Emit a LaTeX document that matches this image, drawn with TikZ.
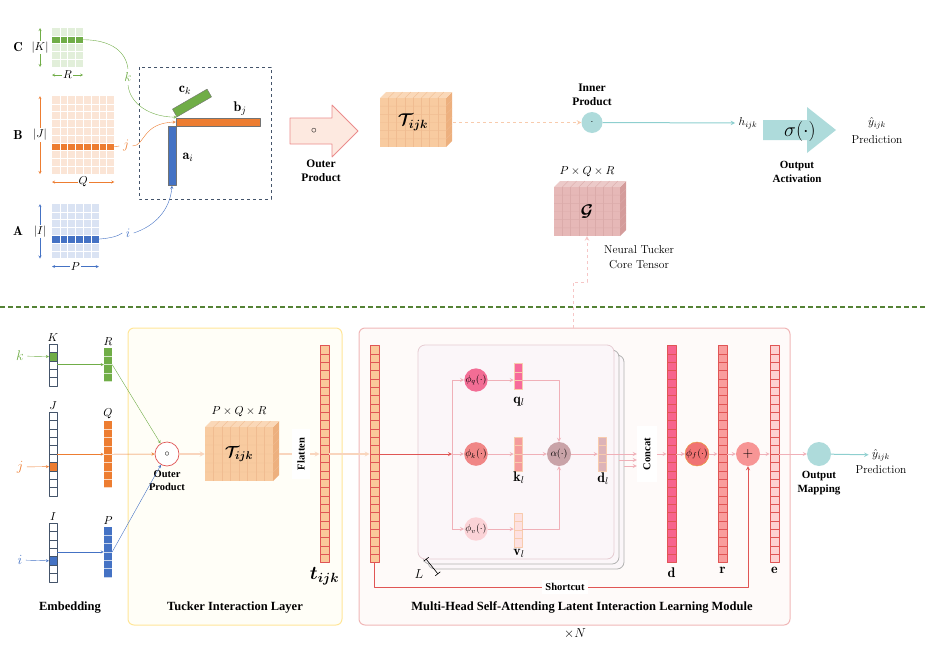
\RequirePackage{fix-cm}
\documentclass[tikz,border=0pt]{standalone}
\usepackage{amsmath, amssymb}
\usepackage{fontspec}
\newfontfamily\capfont{Liberation Serif}
\usetikzlibrary{positioning}

\definecolor{gLt}{HTML}{E2EFDA}
\definecolor{gDk}{HTML}{70AD47}
\definecolor{oLt}{HTML}{FBE5D6}
\definecolor{oDk}{HTML}{ED7D31}
\definecolor{bLt}{HTML}{DAE3F3}
\definecolor{bDk}{HTML}{4472C4}
\definecolor{slate}{HTML}{44546A}
\definecolor{cOr}{HTML}{F8CBA0}
\definecolor{cOrD}{HTML}{EDB07E}
\definecolor{cPk}{HTML}{E6B8B7}
\definecolor{cPkD}{HTML}{D49C9B}
\definecolor{tealC}{HTML}{AEDBDB}
\definecolor{tealL}{HTML}{8ECFCF}
\definecolor{peachD}{HTML}{F8CBAD}
\definecolor{pinkD}{HTML}{F6C6C6}
\definecolor{sepG}{HTML}{548235}
\definecolor{yBd}{HTML}{FFE699}
\definecolor{yFl}{HTML}{FFFEF7}
\definecolor{mBd}{HTML}{F0B7B7}
\definecolor{mFl}{HTML}{FEFAF9}
\definecolor{hdFl}{HTML}{FBF6F9}
\definecolor{hdBd}{HTML}{E6CCD2}
\definecolor{rdC}{HTML}{E05555}
\definecolor{pkL}{HTML}{F0B0B8}
\definecolor{tOr}{HTML}{FAC89A}
\definecolor{dPk}{HTML}{F7648E}
\definecolor{rPk}{HTML}{F99D9D}
\definecolor{ePk}{HTML}{FDD2D2}
\definecolor{qPk}{HTML}{F76A9B}
\definecolor{kPk}{HTML}{F59B9B}
\definecolor{vPk}{HTML}{FDE1E1}
\definecolor{dlPk}{HTML}{DDB3B8}
\definecolor{phqC}{HTML}{F26D95}
\definecolor{phkC}{HTML}{F08686}
\definecolor{phvC}{HTML}{FBD3D7}
\definecolor{alC}{HTML}{C9A3A8}
\definecolor{phfC}{HTML}{F07373}
\definecolor{phfB}{HTML}{E8A035}
\definecolor{plC}{HTML}{F79595}
\definecolor{arFl}{HTML}{FDE9E0}
\definecolor{arBd}{HTML}{EB8C8C}

\begin{document}
\begin{tikzpicture}[x=1pt, y=-1pt, >=stealth, line join=round,
    every node/.style={font=\fontsize{11.5}{14}\selectfont},
    capt/.style={font=\capfont\bfseries\fontsize{11.5}{14}\selectfont, align=center},
    captS/.style={font=\capfont\bfseries\fontsize{10.5}{12.5}\selectfont, align=center},
    capL/.style={font=\capfont\bfseries\fontsize{12.5}{15}\selectfont},
    bar/.style={rectangle, draw=black!55, line width=0.4pt, inner sep=0},
    cube/.style={rectangle, inner sep=0},
    vecbox/.style={rectangle, inner sep=0, minimum width=8},
    longvec/.style={rectangle, draw=rdC, line width=0.6pt, inner sep=0, minimum width=9, minimum height=217},
    opnode/.style={circle, inner sep=0, minimum size=23, font=\fontsize{10}{11}\selectfont},
    flowA/.style={->, draw=pkL, line width=0.8pt},
    tealA/.style={->, draw=tealL, line width=1pt},
    faintA/.style={->, draw=peachD!80, line width=1.2pt},
    panel/.style={rounded corners=7pt, fill=hdFl, draw=hdBd, line width=0.8pt}]
    \useasboundingbox (0,0) rectangle (926,653);

    % lower boxes
    \node[draw=yBd, fill=yFl, rounded corners=6pt, line width=1pt, minimum width=214, minimum height=297] (tuck) at (235,476.5) {};
    \node[draw=mBd, fill=mFl, rounded corners=6pt, line width=1pt, minimum width=431, minimum height=297] (mod) at (574.5,476.5) {};

    % factor matrices C, B, A
    \foreach \my/\nc/\nr/\hr/\lc/\dc/\mn/\dn/\sz in {28/4/5/1/gLt/gDk/C/K/R, 96/8/10/6/oLt/oDk/B/J/Q, 204/6/7/4/bLt/bDk/A/I/P}
    {
        \fill[\lc] (52,\my) rectangle ++({\nc*7.8},{\nr*7.8});
        \fill[\dc] (52,{\my+\hr*7.8}) rectangle ++({\nc*7.8},7.8);
        \foreach \c in {1,...,\nc} \draw[white, line width=0.6pt] ({52+\c*7.8},\my) -- ++(0,{\nr*7.8});
        \foreach \r in {1,...,\nr} \draw[white, line width=0.6pt] (52,{\my+\r*7.8}) -- ++({\nc*7.8},0);
        \draw[<->, \dc] (40,\my) -- (40,{\my+\nr*7.8}) node[midway, fill=white, text=black, inner sep=1pt] (dim\dn) {$|\dn|$};
        \draw[<->, \dc] (52,{\my+\nr*7.8+8}) -- ++({\nc*7.8},0) node[midway, fill=white, text=black, inner sep=1pt] (dim\sz) {$\sz$};
        \node[font=\fontsize{13}{15}\selectfont] (mat\mn) at (18,{\my+\nr*3.9}) {$\mathbf{\mn}$};
        \coordinate (row\mn) at ({52+\nc*7.8},{\my+\hr*7.8+3.9});
    }

    % picked rows
    \draw[dashed, slate, line width=0.8pt] (139,67) rectangle (271,199);
    \node[bar, fill=bDk, minimum width=8, minimum height=59] (ai) at (172,156) {};
    \node[bar, fill=oDk, minimum width=84, minimum height=8] (bj) at (218,122) {};
    \node[bar, fill=gDk, minimum width=40, minimum height=9, rotate=30] (ck) at (192,103) {};
    \node[font=\fontsize{14}{16}\selectfont] (aiL) at (188,157) {$\mathbf{a}_i$};
    \node[font=\fontsize{14}{16}\selectfont] (bjL) at (240,109) {$\mathbf{b}_j$};
    \node[font=\fontsize{14}{16}\selectfont] (ckL) at (185,90) {$\mathbf{c}_k$};

    \node[text=gDk, font=\fontsize{13}{15}\selectfont] (kIdx) at (128,77) {$k$};
    \node[text=oDk, font=\fontsize{13}{15}\selectfont] (jIdx) at (126,146) {$j$};
    \node[text=bDk, font=\fontsize{13}{15}\selectfont] (iIdx) at (128,233) {$i$};
    \draw[gDk] (rowC) .. controls (112,40) and (126,52) .. (kIdx.north);
    \draw[->, gDk] (kIdx.south) .. controls (130,104) and (150,117) .. (ck.south west);
    \draw[oDk] (rowB) -- (jIdx.west);
    \draw[->, oDk] (jIdx.east) .. controls (145,146) and (142,123) .. (bj.west);
    \draw[bDk] (rowA) .. controls (112,238) and (118,236) .. (iIdx.west);
    \draw[->, bDk] (iIdx.east) .. controls (155,226) and (170,210) .. (ai.south);

    % outer product arrow
    \draw[fill=arFl, draw=arBd, line width=0.8pt] (290,118) -- (332,118) -- (332,105) -- (358,131) -- (332,157) -- (332,144) -- (290,144) -- cycle;
    \node (opT) at (314,131) {$\circ$};
    \node[capt] (opTL) at (321,171) {Outer\\Product};

    % tensor cubes
    \foreach \qx/\qy/\qw/\qh/\qf/\qs/\qn in {380/98/66/49/cOr/cOrD/Ttop, 554/187/66/49/cPk/cPkD/G, 205/427/68/54/cOr/cOrD/Tbot}
    {
        \fill[\qs] ({\qx+\qw},\qy) -- ++(6,-6) -- ++(0,\qh) -- ++(-6,6) -- cycle;
        \fill[\qf!75!white] (\qx,\qy) -- ++(6,-6) -- ++(\qw,0) -- ++(-6,6) -- cycle;
        \node[cube, fill=\qf, minimum width=\qw, minimum height=\qh] (\qn) at ({\qx+\qw/2},{\qy+\qh/2}) {};
        \foreach \g in {1,...,7} {
            \draw[\qs!85, line width=0.35pt] ({\qx+\g*\qw/8},\qy) -- ++(0,\qh);
            \draw[\qs!85, line width=0.35pt] ({\qx+\g*\qw/8},\qy) -- ++(6,-6);
        }
        \foreach \g in {1,...,5}
            \draw[\qs!85, line width=0.35pt] (\qx,{\qy+\g*\qh/6}) -- ++(\qw,0) -- ++(6,-6);
    }
    \node[font=\fontsize{17}{20}\selectfont] (TtopL) at (Ttop) {$\boldsymbol{\mathcal{T}_{ijk}}$};
    \node[font=\fontsize{17}{20}\selectfont] (GL) at (G) {$\boldsymbol{\mathcal{G}}$};
    \node[font=\fontsize{16}{19}\selectfont] (TbotL) at (Tbot) {$\boldsymbol{\mathcal{T}_{ijk}}$};
    \node[above=7pt of G] (Gdim) {$P\times Q\times R$};
    \node[above=7pt of Tbot] (Tdim) {$P\times Q\times R$};
    \node[align=center, font=\fontsize{11.5}{15}\selectfont] (Gname) at (639,257) {Neural Tucker\\Core Tensor};

    % inner product and output
    \node[opnode, fill=tealC, minimum size=21] (ip) at (592,122.5) {$\cdot$};
    \node[capt, above=3pt of ip] (ipL) {Inner\\Product};
    \draw[->, dashed, peachD, line width=1pt] ([xshift=7pt]Ttop.east) -- (ip);
    \node (hT) at (748,123) {$h_{ijk}$};
    \draw[tealA] (ip) -- (hT);
    \fill[tealC] (763,120) -- (807,120) -- (807,107) -- (836,130) -- (807,153) -- (807,140) -- (763,140) -- cycle;
    \node[font=\fontsize{20}{22}\selectfont] (sig) at (800,131) {$\sigma(\cdot)$};
    \node[capt, font=\capfont\bfseries\fontsize{11}{14}\selectfont] (sigL) at (797,172) {Output\\Activation};
    \node (yT) at (877,123) {$\hat{y}_{ijk}$};
    \node (predT) at (877,140) {Prediction};

    % separator
    \draw[sepG, line width=1.3pt, dash pattern=on 5pt off 3pt] (0,307) -- (926,307);

    % core tensor feed
    \coordinate (gTap) at (573,328);
    \draw[->, dashed, pinkD, line width=1pt] (gTap) -- (573,282) -| (G.south);

    % one-hot index columns
    \foreach \ey/\en/\eh/\ec/\el in {344/5/1/gDk/K, 412/10/6/oDk/J, 523/7/4/bDk/I}
    {
        \foreach \r in {1,...,\en} \draw[slate, fill=white, line width=0.6pt] (49,{\ey+(\r-1)*8.4}) rectangle ++(8,8.4);
        \draw[slate, fill=\ec, line width=0.6pt] (49,{\ey+\eh*8.4}) rectangle ++(8,8.4);
        \node[above=-1pt] (oh\el) at (53,\ey) {$\el$};
        \coordinate (hot\el) at (49,{\ey+\eh*8.4+4.2});
        \coordinate (col\el) at (57,\ey);
    }
    \node[text=gDk, font=\fontsize{14}{16}\selectfont] (kB) at (20,356) {$k$};
    \node[text=oDk, font=\fontsize{14}{16}\selectfont] (jB) at (20,467) {$j$};
    \node[text=bDk, font=\fontsize{14}{16}\selectfont] (iB) at (20,560) {$i$};
    \draw[->, gDk] (kB) -- (hotK);
    \draw[->, oDk] (jB) -- (hotJ);
    \draw[->, bDk] (iB) -- (hotI);

    % outer product node
    \node[opnode, draw=rdC, fill=white, minimum size=24, line width=0.7pt] (opB) at (167,454) {$\circ$};
    \node[captS, below=1pt of opB] (opBL) {Outer\\Product};

    % factor embedding vectors
    \foreach \fy/\fn/\fc/\fl/\fk in {348/4/gDk/R/K, 421/8/oDk/Q/J, 527/6/bDk/P/I}
    {
        \node[vecbox, fill=\fc, minimum height=\fn*8.3] (v\fl) at (108,{\fy+\fn*4.15}) {};
        \foreach \c in {1,...,\fn} \draw[white!70!\fc, line width=0.5pt] (104,{\fy+\c*8.3}) -- ++(8,0);
        \node[above=-1pt of v\fl] (vl\fl) {$\fl$};
        \draw[->, \fc] (col\fk |- v\fl.west) -- (v\fl.west);
        \draw[->, \fc] (v\fl.east) -- (opB);
    }

    % long vectors
    \foreach \vx/\vf/\vn in {320/tOr/tv, 370/tOr/hv, 667/dPk/dv, 718/rPk/rv, 770/ePk/ev}
    {
        \node[longvec, fill=\vf] (\vn) at ({\vx+4.5},454) {};
        \foreach \c in {1,...,25} \draw[rdC, line width=0.5pt] (\vx,{345.5+\c*8.35}) -- ++(9,0);
    }
    \node[below=1pt of tv, font=\fontsize{19}{21}\selectfont] (tL) {$\boldsymbol{t_{ijk}}$};
    \node[below=1pt of dv, font=\fontsize{14}{16}\selectfont] (dL) {$\mathbf{d}$};
    \node[below=1pt of rv, font=\fontsize{14}{16}\selectfont] (rL) {$\mathbf{r}$};
    \node[below=1pt of ev, font=\fontsize{14}{16}\selectfont] (eL) {$\mathbf{e}$};

    % tucker layer flow
    \draw[faintA] (opB) -- (Tbot);
    \draw[faintA] ([xshift=6pt]Tbot.east) -- (tv);
    \node[capt, rotate=90, fill=white, font=\capfont\bfseries\fontsize{10.5}{12}\selectfont, minimum width=50, minimum height=18] (flat) at (301,454) {Flatten};
    \draw[faintA] (tv) -- (hv);

    % stacked attention heads
    \foreach \s in {10,5} \draw[panel, draw=black!30] ({418+\s},{345+\s}) rectangle ({614+\s},{559+\s});
    \node[panel, minimum width=196, minimum height=214] (head) at (516,452) {};
    \node[font=\fontsize{13}{15}\selectfont] (Lh) at (419,574) {$L$};
    \draw[|-|, line width=0.6pt] (426,559) -- (438,574);

    \node[opnode, fill=phqC] (phq) at (476,380) {$\phi_q(\cdot)$};
    \node[opnode, fill=phkC] (phk) at (476,454) {$\phi_k(\cdot)$};
    \node[opnode, fill=phvC] (phv) at (476,529) {$\phi_v(\cdot)$};
    \coordinate (sp) at (452,454);
    \draw[->, rdC, line width=0.8pt] (hv) -- (sp);
    \draw[pkL, line width=0.8pt] (sp |- phq) -- (sp |- phv);
    \draw[flowA] (sp |- phq) -- (phq);
    \draw[flowA] (sp) -- (phk);
    \draw[flowA] (sp |- phv) -- (phv);

    \foreach \ux/\uy/\un/\uf/\uv in {514/376/3/qPk/qV, 514/454/4/kPk/kV, 514/530/4/vPk/vV, 598/454/4/dlPk/dlV}
    {
        \node[vecbox, fill=\uf, draw=peachD, line width=0.5pt, minimum height=\un*8.5] (\uv) at ({\ux+4},\uy) {};
        \foreach \c in {1,...,\un} \draw[peachD, line width=0.5pt] (\ux,{\uy-\un*4.25+\c*8.5}) -- ++(8,0);
    }
    \node[font=\fontsize{14}{16}\selectfont] (qL) at (519,402) {$\mathbf{q}_l$};
    \node[font=\fontsize{14}{16}\selectfont] (kL) at (519,478) {$\mathbf{k}_l$};
    \node[font=\fontsize{14}{16}\selectfont] (vL) at (519,553) {$\mathbf{v}_l$};
    \node[font=\fontsize{14}{16}\selectfont] (dlL) at (603,479) {$\mathbf{d}_l$};

    \node[opnode, fill=alC, minimum size=24] (al) at (559,454) {$\alpha(\cdot)$};
    \draw[flowA] (phq) -- (qV.west |- phq);
    \draw[flowA] (phk) -- (kV);
    \draw[flowA] (phv) -- (vV.west |- phv);
    \draw[flowA] (qV.east |- phq) -| (al);
    \draw[flowA] (kV) -- (al);
    \draw[flowA] (vV.east |- phv) -| (al);
    \draw[flowA] (al) -- (dlV);

    % concat and feed forward
    \node[capt, rotate=90, fill=white, font=\capfont\bfseries\fontsize{10.5}{12}\selectfont, minimum width=56, minimum height=20] (cc) at (647,454) {Concat};
    \coordinate (h2) at (619,460);
    \coordinate (h3) at (624,466);
    \draw[flowA] (dlV) -- (cc);
    \draw[flowA] (h2) -- (h2 -| cc.north);
    \draw[flowA] (h3) -- (h3 -| cc.north);
    \draw[flowA] (cc) -- (dv);
    \node[opnode, fill=phfC, draw=phfB, minimum size=24] (phf) at (697,454) {$\phi_f(\cdot)$};
    \node[opnode, fill=plC, minimum size=24, font=\fontsize{14}{16}\selectfont] (pl) at (748,454) {$+$};
    \draw[flowA] (dv) -- (phf);
    \draw[flowA] (phf) -- (rv);
    \draw[flowA] (rv) -- (pl);
    \draw[flowA] (pl) -- (ev);
    \draw[->, rdC, line width=0.8pt] (hv.south) -- ++(0,24.5) -| node[pos=0.255, captS, fill=white, text=black] (scL) {Shortcut} (pl);

    % output mapping
    \node[opnode, fill=tealC, minimum size=24] (om) at (819,454) {};
    \draw[flowA] (ev) -- (om);
    \node[captS, font=\capfont\bfseries\fontsize{11}{14}\selectfont, below=1pt of om] (omL) {Output\\Mapping};
    \node (yB) at (881,455) {$\hat{y}_{ijk}$};
    \node (predB) at (881,470) {Prediction};
    \draw[tealA] (om) -- (yB);

    % captions
    \node[capL] (embL) at (70,608) {Embedding};
    \node[capL] (tuckL) at (235,608) {Tucker Interaction Layer};
    \node[capL] (modL) at (582,607) {Multi-Head Self-Attending Latent Interaction Learning Module};
    \node[font=\fontsize{13}{15}\selectfont] (xN) at (575,634) {$\times N$};
\end{tikzpicture}
\end{document}
